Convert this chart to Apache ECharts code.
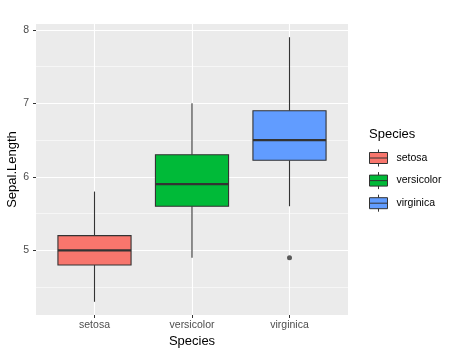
<!DOCTYPE html>
<html><head><meta charset="utf-8">
<script src="https://cdn.jsdelivr.net/npm/echarts@6/dist/echarts.min.js"></script>
<style>html,body{margin:0;padding:0;background:#fff}#c{width:474px;height:355px}</style>
</head><body><div id="c"></div>
<script>
var categories = ['setosa', 'versicolor', 'virginica'];
var whiskerLow = [4.3, 4.9, 5.6];
var q1 = [4.8, 5.6, 6.225];
var median = [5.0, 5.9, 6.5];
var q3 = [5.2, 6.3, 6.9];
var whiskerHigh = [5.8, 7.0, 7.9];
var outlierSpecies = ['virginica'];
var outlierValues = [4.9];
var colors = ['#F8766D', '#00BA38', '#619CFF'];
var yTicks = [5, 6, 7, 8];
var yMinor = [4.5, 5.5, 6.5, 7.5];

var FONT = '"Liberation Sans", Arial, Helvetica, sans-serif';
var chart = echarts.init(document.getElementById('c'), null, {renderer: 'canvas'});

function renderBox(params, api) {
  var x = api.value(0);
  var hw = 0.375;
  var pLow = api.coord([x, api.value(1)]);
  var pQ1 = api.coord([x, api.value(2)]);
  var pMedL = api.coord([x - hw, api.value(3)]);
  var pMedR = api.coord([x + hw, api.value(3)]);
  var pQ3 = api.coord([x, api.value(4)]);
  var pHigh = api.coord([x, api.value(5)]);
  var tl = api.coord([x - hw, api.value(4)]);
  var br = api.coord([x + hw, api.value(2)]);
  var ls = {stroke: '#333333', lineWidth: 1.1};
  return {type: 'group', children: [
    {type: 'line', shape: {x1: pLow[0], y1: pLow[1], x2: pQ1[0], y2: pQ1[1]}, style: ls},
    {type: 'line', shape: {x1: pQ3[0], y1: pQ3[1], x2: pHigh[0], y2: pHigh[1]}, style: ls},
    {type: 'rect', shape: {x: tl[0], y: tl[1], width: br[0] - tl[0], height: br[1] - tl[1]},
      style: {fill: api.visual('color'), stroke: '#333333', lineWidth: 1.1}},
    {type: 'line', shape: {x1: pMedL[0], y1: pMedL[1], x2: pMedR[0], y2: pMedR[1]},
      style: {stroke: '#333333', lineWidth: 2.2}}
  ]};
}

var series = categories.map(function (name, i) {
  return {
    type: 'custom', name: name, xAxisIndex: 0, yAxisIndex: 1,
    itemStyle: {color: colors[i]},
    encode: {x: 0, y: [1, 2, 3, 4, 5]},
    data: [[i + 1, whiskerLow[i], q1[i], median[i], q3[i], whiskerHigh[i]]],
    renderItem: renderBox
  };
});
series.push({
  type: 'scatter', name: 'outliers', xAxisIndex: 0, yAxisIndex: 1,
  symbolSize: 5, itemStyle: {color: '#333333'},
  data: outlierSpecies.map(function (s, k) { return [categories.indexOf(s) + 1, outlierValues[k]]; })
});

chart.setOption({
  animation: false,
  textStyle: {fontFamily: FONT},
  title: {text: 'Species', left: 369, top: 128, padding: 0,
    textStyle: {fontSize: 13, fontWeight: 'normal', color: '#000', fontFamily: FONT}},
  legend: {
    data: categories, orient: 'vertical', left: 369, top: 149, padding: 0,
    itemWidth: 18, itemHeight: 17, itemGap: 4.6,
    icon: 'path://M0,3H18V14H0Z M9,0V3 M9,14V17 M0,8.5H18',
    itemStyle: {borderColor: '#333333', borderWidth: 1},
    textStyle: {fontSize: 10.5, color: '#000', fontFamily: FONT, padding: [0, 0, 0, 4]}
  },
  grid: {left: 36, top: 24, width: 312, height: 291, show: true, backgroundColor: '#EBEBEB', borderWidth: 0,
    containLabel: false, outerBoundsMode: 'none'},
  xAxis: [{
    type: 'value', min: 0.4, max: 3.6,
    name: 'Species', nameLocation: 'middle', nameGap: 20, nameMoveOverlap: false,
    nameTextStyle: {fontSize: 13, color: '#000', fontFamily: FONT},
    axisLine: {show: false},
    axisTick: {show: true, length: 3, customValues: [1, 2, 3], lineStyle: {color: '#333333'}},
    axisLabel: {customValues: [1, 2, 3], margin: 5, fontSize: 10.5, color: '#4D4D4D', fontFamily: FONT,
      formatter: function (v) { return categories[Math.round(v) - 1] || ''; }},
    splitLine: {show: true, lineStyle: {color: '#FFFFFF', width: 1.1}}
  }],
  yAxis: [{
    type: 'value', position: 'left', min: 4.12, max: 8.08,
    axisLine: {show: false}, axisTick: {show: false, customValues: yMinor},
    axisLabel: {show: false, customValues: yMinor},
    splitLine: {show: true, lineStyle: {color: '#FFFFFF', width: 0.55}}
  }, {
    type: 'value', position: 'left', min: 4.12, max: 8.08,
    name: 'Sepal.Length', nameLocation: 'middle', nameGap: 17, nameMoveOverlap: false,
    nameTextStyle: {fontSize: 13, color: '#000', fontFamily: FONT},
    axisLine: {show: false},
    axisTick: {show: true, length: 3, customValues: yTicks, lineStyle: {color: '#333333'}},
    axisLabel: {customValues: yTicks, margin: 7, fontSize: 10.5, color: '#4D4D4D', fontFamily: FONT},
    splitLine: {show: true, lineStyle: {color: '#FFFFFF', width: 1.1}}
  }],
  series: series
});
</script></body></html>
